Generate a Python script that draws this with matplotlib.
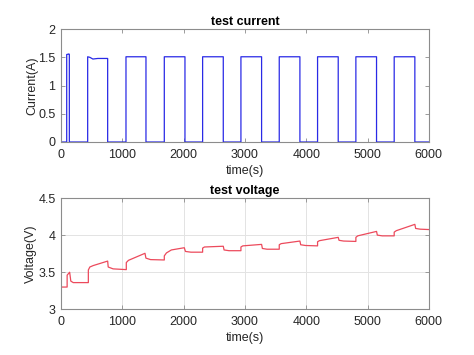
import matplotlib
matplotlib.use("Agg")
import matplotlib.pyplot as plt

# ---- data ----
time_current = [0, 93, 93, 130, 136, 136, 435, 435, 470, 520, 600, 761, 761,
                1060, 1060, 1386, 1386, 1685, 1685, 2022, 2022, 2310, 2310, 2647, 2647,
                2935, 2935, 3272, 3272, 3560, 3560, 3897, 3897, 4185, 4185, 4522, 4522,
                4810, 4810, 5147, 5147, 5435, 5435, 5772, 5772, 6000]
current = [0, 0, 1.55, 1.56, 1.55, 0, 0, 1.51, 1.50, 1.47, 1.48, 1.48, 0,
           0, 1.51, 1.51, 0, 0, 1.51, 1.51, 0, 0, 1.51, 1.51, 0,
           0, 1.51, 1.51, 0, 0, 1.51, 1.51, 0, 0, 1.51, 1.51, 0,
           0, 1.51, 1.51, 0, 0, 1.51, 1.51, 0, 0]

time_voltage = [0, 100, 100, 141, 160, 200, 446,
                446, 470, 527, 761, 770, 850, 1065,
                1065, 1100, 1370, 1385, 1460, 1685,
                1685, 1720, 1800, 2011, 2030, 2120, 2310,
                2310, 2340, 2647, 2660, 2740, 2935,
                2935, 2965, 3272, 3285, 3360, 3560,
                3560, 3590, 3897, 3910, 3990, 4185,
                4185, 4215, 4522, 4535, 4610, 4810,
                4810, 4840, 5147, 5160, 5240, 5435,
                5435, 5470, 5772, 5785, 5860, 6000]
voltage = [3.30, 3.30, 3.46, 3.50, 3.38, 3.36, 3.36,
           3.53, 3.57, 3.59, 3.65, 3.57, 3.545, 3.535,
           3.63, 3.66, 3.755, 3.69, 3.67, 3.665,
           3.72, 3.76, 3.80, 3.83, 3.78, 3.77, 3.77,
           3.825, 3.84, 3.85, 3.80, 3.79, 3.79,
           3.84, 3.855, 3.875, 3.82, 3.81, 3.81,
           3.87, 3.885, 3.92, 3.87, 3.86, 3.855,
           3.91, 3.925, 3.97, 3.93, 3.92, 3.915,
           3.97, 3.99, 4.05, 4.00, 3.99, 3.99,
           4.04, 4.06, 4.145, 4.09, 4.08, 4.075]

x_ticks = [0, 1000, 2000, 3000, 4000, 5000, 6000]
current_ticks = [0, 0.5, 1, 1.5, 2]
voltage_ticks = [3, 3.5, 4, 4.5]

plt.rcParams['font.family'] = ['Liberation Sans', 'DejaVu Sans']
text_color = '#262626'
spine_color = '#8c8c8c'

fig = plt.figure(figsize=(4.74, 3.55), dpi=100)
ax1 = fig.add_axes([0.1287, 0.600, 0.776, 0.318])
ax2 = fig.add_axes([0.1287, 0.1287, 0.776, 0.3135])

def style(ax):
    for s in ax.spines.values():
        s.set_color(spine_color)
        s.set_linewidth(0.8)
    ax.tick_params(direction='in', length=3, width=0.6, color=spine_color,
                   labelsize=9, labelcolor=text_color, top=True, right=True)
    ax.tick_params(axis='x', pad=5)
    ax.tick_params(axis='y', pad=4)

ax1.plot(time_current, current, color='#2a2ae6', lw=0.9)
ax1.set_xlim(0, 6000)
ax1.set_ylim(0, 2)
ax1.set_xticks(x_ticks)
ax1.set_yticks(current_ticks)
ax1.set_yticklabels(['0', '0.5', '1', '1.5', '2'])
ax1.set_title('test current', fontsize=9, fontweight='bold', color='black', pad=3)
ax1.set_xlabel('time(s)', fontsize=9, color=text_color, labelpad=3)
ax1.set_ylabel('Current(A)', fontsize=9, color=text_color, labelpad=0)
style(ax1)

ax2.plot(time_voltage, voltage, color='#ec4a5c', lw=0.9)
ax2.set_xlim(0, 6000)
ax2.set_ylim(3, 4.5)
ax2.set_xticks(x_ticks)
ax2.set_yticks(voltage_ticks)
ax2.set_yticklabels(['3', '3.5', '4', '4.5'])
ax2.grid(True, color='#e3e3e3', lw=0.7)
ax2.set_axisbelow(True)
ax2.set_title('test voltage', fontsize=9, fontweight='bold', color='black', pad=3)
ax2.set_xlabel('time(s)', fontsize=9, color=text_color, labelpad=3)
ax2.set_ylabel('Voltage(V)', fontsize=9, color=text_color, labelpad=1)
style(ax2)

fig.savefig('out.png', dpi=100)
